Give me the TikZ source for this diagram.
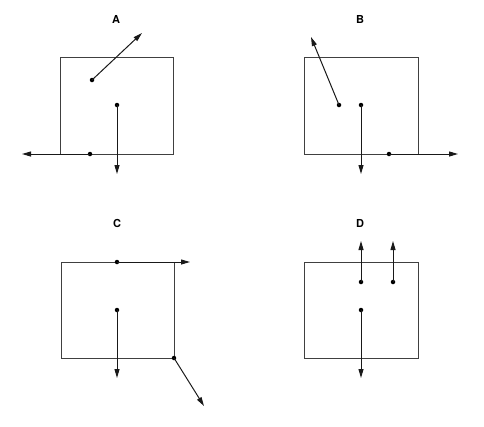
\documentclass[tikz,border=0pt]{standalone}
\usepackage{fontspec}
\setmainfont{TeX Gyre Heros}
\usetikzlibrary{arrows.meta}

\begin{document}
\begin{tikzpicture}[x=1pt, y=-1pt]
	\useasboundingbox (0,0) rectangle (484,426);

	% looks of the boxes, the forces and their points
	\tikzstyle{body} = [draw=black!75, line width=0.8pt]
	\tikzstyle{force} = [draw=black!90, line width=1pt, -{Triangle[length=9pt, width=5pt]}]
	\tikzstyle{point} = [circle, fill=black, inner sep=0pt, minimum size=4.5pt]
	\tikzstyle{case} = [font=\bfseries\fontsize{11}{13}\selectfont]

	% A
	\node[case] (labA) at (116,19) {A};
	\draw[body] (60,57) rectangle (173,154);
	\node[point] (a1) at (92,80) {};
	\node[point] (a2) at (117,105) {};
	\node[point] (a3) at (90,154) {};
	\coordinate (a1t) at (142,33);
	\coordinate (a2t) at (117,174);
	\coordinate (a3t) at (22,154);
	\draw[force] (a1.center) -- (a1t);
	\draw[force] (a2.center) -- (a2t);
	\draw[force] (a3.center) -- (a3t);

	% B
	\node[case] (labB) at (360,19) {B};
	\draw[body] (304,57) rectangle (418,154);
	\node[point] (b1) at (339,105) {};
	\node[point] (b2) at (361,105) {};
	\node[point] (b3) at (389,154) {};
	\coordinate (b1t) at (311,37);
	\coordinate (b2t) at (361,174);
	\coordinate (b3t) at (458,154);
	\draw[force] (b1.center) -- (b1t);
	\draw[force] (b2.center) -- (b2t);
	\draw[force] (b3.center) -- (b3t);

	% C
	\node[case] (labC) at (117,223) {C};
	\draw[body] (61,262) rectangle (174,358);
	\node[point] (c1) at (117,262) {};
	\node[point] (c2) at (117,310) {};
	\node[point] (c3) at (174,358) {};
	\coordinate (c1t) at (190,262);
	\coordinate (c2t) at (117,378);
	\coordinate (c3t) at (204,406);
	\draw[force] (c1.center) -- (c1t);
	\draw[force] (c2.center) -- (c2t);
	\draw[force] (c3.center) -- (c3t);

	% D
	\node[case] (labD) at (360,223) {D};
	\draw[body] (304,262) rectangle (418,358);
	\node[point] (d1) at (361,282) {};
	\node[point] (d2) at (393,282) {};
	\node[point] (d3) at (361,310) {};
	\coordinate (d1t) at (361,241);
	\coordinate (d2t) at (393,241);
	\coordinate (d3t) at (361,378);
	\draw[force] (d1.center) -- (d1t);
	\draw[force] (d2.center) -- (d2t);
	\draw[force] (d3.center) -- (d3t);
\end{tikzpicture}
\end{document}
